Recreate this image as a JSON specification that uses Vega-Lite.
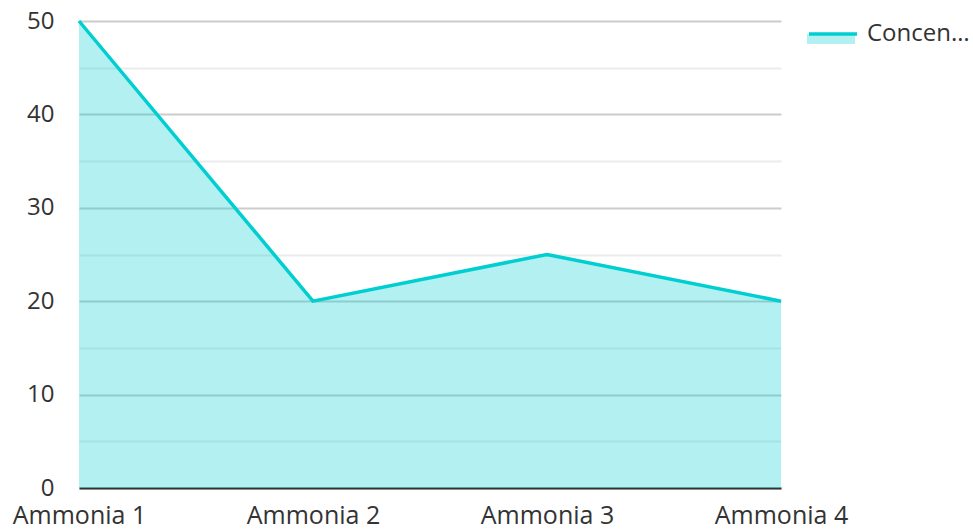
{
  "$schema": "https://vega.github.io/schema/vega-lite/v6.json",
  "autosize": {"type": "none"},
  "width": 702,
  "height": 467,
  "padding": {"left": 79, "top": 21, "right": 192, "bottom": 41},
  "config": {
    "view": {"stroke": null},
    "font": "Open Sans",
    "axis": {"labelFont": "Open Sans", "labelColor": "#333333", "labelFontSize": 24}
  },
  "data": {
    "values": [
      {"sample": "Ammonia 1", "series": "Concentration", "value": 50},
      {"sample": "Ammonia 2", "series": "Concentration", "value": 20},
      {"sample": "Ammonia 3", "series": "Concentration", "value": 25},
      {"sample": "Ammonia 4", "series": "Concentration", "value": 20}
    ]
  },
  "encoding": {
    "x": {
      "field": "sample",
      "type": "ordinal",
      "scale": {"type": "point", "padding": 0},
      "axis": {
        "title": null,
        "labelAngle": 0,
        "labelFontSize": 25,
        "ticks": false,
        "grid": false,
        "domain": true,
        "domainColor": "#333333",
        "domainWidth": 2,
        "labelPadding": 15,
        "labelOverlap": false
      }
    },
    "y": {
      "field": "value",
      "type": "quantitative",
      "scale": {"domain": [0, 50], "nice": false},
      "axis": {
        "title": null,
        "values": [0, 5, 10, 15, 20, 25, 30, 35, 40, 45, 50],
        "labelExpr": "datum.value % 10 === 0 ? datum.label : ''",
        "domain": false,
        "ticks": false,
        "labelPadding": 25,
        "grid": true,
        "gridColor": {"condition": {"test": "datum.value % 10 === 0", "value": "#cccccc"}, "value": "#ebebeb"},
        "gridWidth": 2
      }
    }
  },
  "layer": [
    {
      "mark": {"type": "area", "fillOpacity": 0.3},
      "encoding": {
        "fill": {
          "field": "series",
          "type": "nominal",
          "scale": {"range": ["#00CED1"]},
          "legend": {
            "title": null,
            "orient": "none",
            "legendX": 728,
            "legendY": -13,
            "symbolType": "M-1,0.08H1V0.5H-1Z",
            "symbolSize": 2304,
            "symbolOpacity": 0.3,
            "symbolStrokeWidth": 0,
            "labelFontSize": 24,
            "labelFont": "Open Sans",
            "labelLimit": 105,
            "labelOffset": 8,
            "labelExpr": "''"
          }
        }
      }
    },
    {
      "mark": {"type": "line", "strokeWidth": 3.5},
      "encoding": {
        "stroke": {
          "field": "series",
          "type": "nominal",
          "scale": {"range": ["#00CED1"]},
          "legend": {
            "title": null,
            "orient": "none",
            "legendX": 728,
            "legendY": -13,
            "symbolType": "stroke",
            "symbolSize": 2304,
            "symbolStrokeWidth": 3.5,
            "labelFontSize": 24,
            "labelFont": "Open Sans",
            "labelColor": "#333333",
            "labelLimit": 105,
            "labelOffset": 8
          }
        }
      }
    }
  ]
}
